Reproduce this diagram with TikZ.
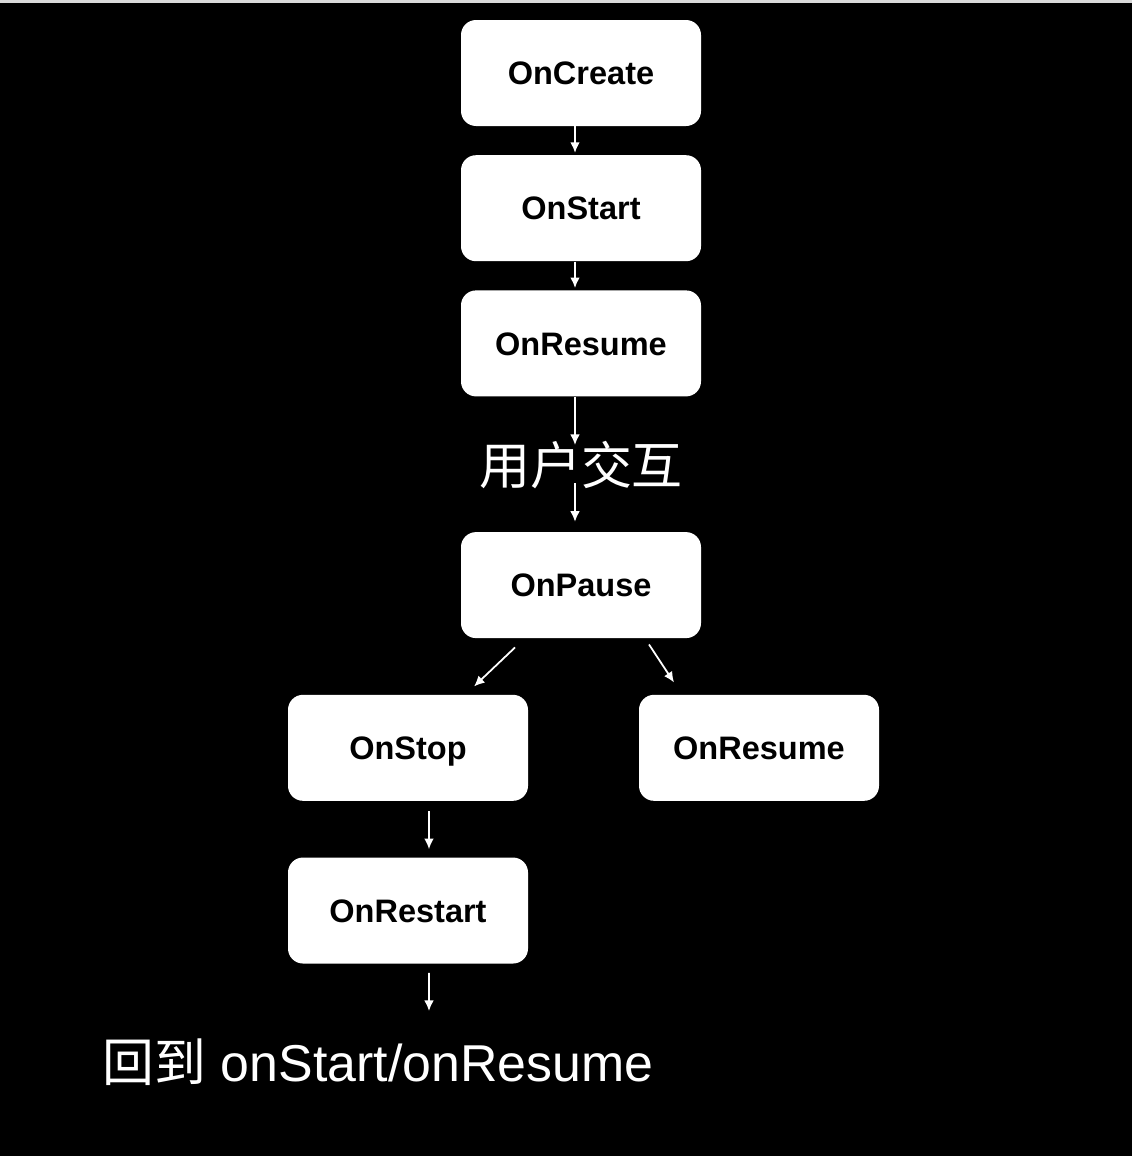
\documentclass[tikz,border=0pt]{standalone}
\usepackage{fontspec}
\setmainfont{Liberation Sans}
\newfontfamily\cjk{Noto Sans CJK SC}
\usetikzlibrary{positioning,arrows.meta}
\begin{document}
\begin{tikzpicture}[
			state/.style = {draw=none, fill=white, rounded corners=0.3cm, minimum width=4.8cm, minimum height=2.12cm, text height=13.4pt, text depth=0pt, font=\fontsize{18.5}{22}\bfseries, text=black},
			note/.style = {text=white, inner sep=0pt},
			flow/.style = {draw=white, line width=1pt, -{Latex[length=6pt,width=5.5pt]}},
			]
			\fill[black] (0,0) rectangle (22.64,-23.12);
			\fill[black!15] (0,0) rectangle (22.64,-0.06);
			\node[state] (create) at (11.62,-1.46) {OnCreate};
			\node[state, below=0.57cm of create] (start) {OnStart};
			\node[state, below=0.57cm of start] (resume) {OnResume};
			\node[note, font=\cjk\fontsize{29}{34}\selectfont] (act) at (11.62,-9.3) {用户交互};
			\node[state, below=2.7cm of resume] (pause) {OnPause};
			\node[state, below=1.12cm of pause, xshift=-3.46cm] (stop) {OnStop};
			\node[state, below=1.12cm of pause, xshift=3.56cm] (back) {OnResume};
			\node[state, below=1.12cm of stop] (restart) {OnRestart};
			\node[note, font=\fontsize{29.5}{34}\selectfont] (again) at (7.56,-21.24) {{\cjk 回到} onStart/onResume};
			\draw[flow] ([xshift=-0.12cm]create.south) -- ([xshift=-0.12cm,yshift=0.04cm]start.north);
			\draw[flow] ([xshift=-0.12cm]start.south) -- ([xshift=-0.12cm,yshift=0.04cm]resume.north);
			\draw[flow] ([xshift=-0.12cm]resume.south) -- ([xshift=-0.12cm,yshift=0.4cm]act.center);
			\draw[flow] ([xshift=-0.12cm,yshift=-0.36cm]act.center) -- ([xshift=-0.12cm,yshift=0.2cm]pause.north);
			\draw[flow] ([xshift=-1.32cm,yshift=-0.18cm]pause.south) -- ([xshift=1.32cm,yshift=0.16cm]stop.north);
			\draw[flow] ([xshift=1.36cm,yshift=-0.12cm]pause.south) -- ([xshift=-1.7cm,yshift=0.24cm]back.north);
			\draw[flow] ([xshift=0.42cm,yshift=-0.2cm]stop.south) -- ([xshift=0.42cm,yshift=0.16cm]restart.north);
			\draw[flow] ([xshift=0.42cm,yshift=-0.18cm]restart.south) -- ([xshift=1.02cm,yshift=1.02cm]again.center);
		\end{tikzpicture}
\end{document}
